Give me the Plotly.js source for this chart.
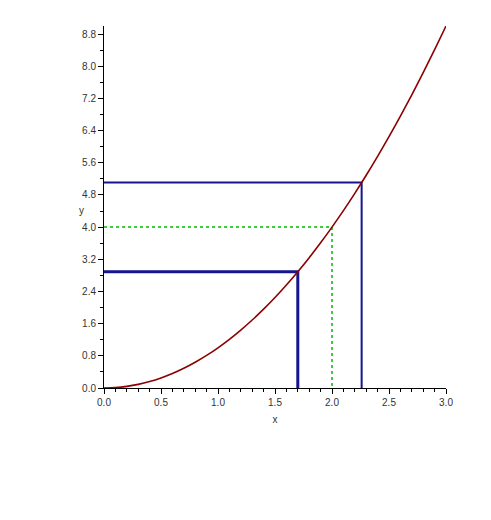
<!DOCTYPE html>
<html><head><meta charset="utf-8">
<script src="https://cdn.plot.ly/plotly-3.0.1.min.js"></script>
<style>html,body{margin:0;padding:0;background:#fff}#chart{width:491px;height:520px}</style>
</head><body><div id="chart"></div>
<script>
// curve samples
const curveX = [0,0.1,0.2,0.3,0.4,0.5,0.6,0.7,0.8,0.9,1.0,1.1,1.2,1.3,1.4,1.5,1.6,1.7,1.8,1.9,2.0,2.1,2.2,2.3,2.4,2.5,2.6,2.7,2.8,2.9,3.0];
const curveY = [0,0.01,0.04,0.09,0.16,0.25,0.36,0.49,0.64,0.81,1.0,1.21,1.44,1.69,1.96,2.25,2.56,2.89,3.24,3.61,4.0,4.41,4.84,5.29,5.76,6.25,6.76,7.29,7.84,8.41,9.0];
// guide lines
const lowX = [0,1.7,1.7];
const lowY = [2.89,2.89,0];
const midX = [0,2.0,2.0];
const midY = [4.0,4.0,0];
const highX = [0,2.26,2.26];
const highY = [5.11,5.11,0];
const xTicks = [0,0.5,1.0,1.5,2.0,2.5,3.0];
const yTicks = [0,0.8,1.6,2.4,3.2,4.0,4.8,5.6,6.4,7.2,8.0,8.8];

const traces = [
  {x: lowX, y: lowY, mode:'lines', line:{color:'#15158f', width:3}, hoverinfo:'none'},
  {x: highX, y: highY, mode:'lines', line:{color:'#15158f', width:2}, hoverinfo:'none'},
  {x: midX, y: midY, mode:'lines', line:{color:'#3ecc3e', width:2, dash:'dot'}, hoverinfo:'none'},
  {x: curveX, y: curveY, mode:'lines', line:{color:'#8b0000', width:1.6, shape:'spline'}, hoverinfo:'none'}
];
const tickFont = {family:'Liberation Sans, Arial, sans-serif', size:10, color:'#333'};
const layout = {
  width:491, height:520,
  margin:{l:104, r:45, t:26, b:132},
  showlegend:false,
  paper_bgcolor:'#fff', plot_bgcolor:'#fff',
  xaxis:{range:[0,3], tickvals:xTicks, tickformat:'.1f', showgrid:false, zeroline:false,
    showline:true, linecolor:'#000', linewidth:1, ticks:'outside', ticklen:5, tickcolor:'#000',
    tickfont:tickFont, minor:{dtick:0.1, tick0:0, ticks:'outside', ticklen:3, tickcolor:'#000', showgrid:false},
    title:{text:'x', font:{family:'Liberation Sans, Arial, sans-serif', size:10, color:'#333'}, standoff:8}},
  yaxis:{range:[0,9], tickvals:yTicks, tickformat:'.1f', showgrid:false, zeroline:false,
    showline:true, linecolor:'#000', linewidth:1, ticks:'outside', ticklen:5, tickcolor:'#000',
    tickfont:tickFont, minor:{dtick:0.4, tick0:0, ticks:'outside', ticklen:3, tickcolor:'#000', showgrid:false}},
  annotations:[{text:'y', xref:'paper', yref:'paper', x:-0.08, y:0.49, showarrow:false,
    font:{family:'Liberation Sans, Arial, sans-serif', size:10, color:'#333'}}]
};
Plotly.newPlot('chart', traces, layout, {displayModeBar:false, staticPlot:true});
</script></body></html>
